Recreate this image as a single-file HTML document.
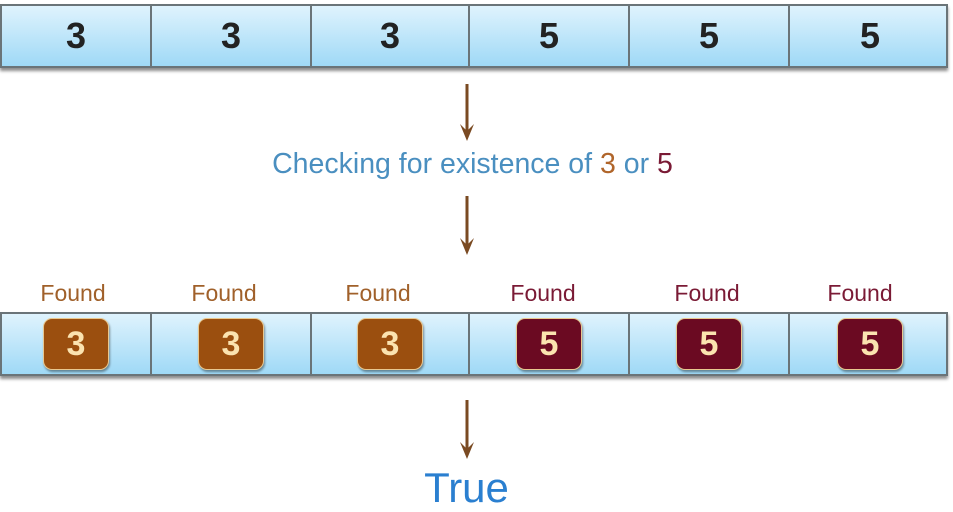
<!DOCTYPE html>
<html><head><style>
body{margin:0;width:953px;height:507px;background:#fff;position:relative;font-family:"Liberation Sans",sans-serif;overflow:hidden}
.row{position:absolute;left:0;width:948px;height:64px;background:linear-gradient(#dff3fd,#9fd9f6);border:2px solid #6a7478;box-sizing:border-box;box-shadow:0 3px 3px rgba(0,0,0,.45);display:flex}
.c{flex:none;height:100%;border-right:2px solid #6a7478;box-sizing:border-box;display:flex;align-items:center;justify-content:center;font-size:36px;color:#222;font-weight:bold}
.c:last-child{border-right:none}
.b{width:64px;height:50px;border-radius:9px;color:#fbe3b0;display:flex;align-items:center;justify-content:center;font-size:34px;box-shadow:1px 2px 2px rgba(0,0,0,.4);border:1px solid #e8c890}
.o{background:#9b4f0f}.m{background:#6b0a22}
.f{position:absolute;top:280px;font-size:23px;text-align:center;transform:translateX(-50%)}
.arr{position:absolute;left:458px}
</style></head><body>
<div class="row" style="top:4px">
<div class="c" style="width:150px">3</div><div class="c" style="width:160px">3</div><div class="c" style="width:158px">3</div><div class="c" style="width:160px">5</div><div class="c" style="width:160px">5</div><div class="c" style="width:160px">5</div>
</div>
<svg class="arr" style="top:84px" width="18" height="58"><line x1="9" y1="0" x2="9" y2="50" stroke="#7a4a22" stroke-width="3"/><path d="M2 40 L9 57 L16 40 L9 47Z" fill="#7a4a22"/></svg>
<div style="position:absolute;top:148px;left:0;width:945px;text-align:center;font-size:28.5px;color:#4a8fc0">Checking for existence of <span style="color:#b0652a">3</span> or <span style="color:#7a1a35">5</span></div>
<svg class="arr" style="top:196px" width="18" height="60"><line x1="9" y1="0" x2="9" y2="52" stroke="#7a4a22" stroke-width="3"/><path d="M2 42 L9 59 L16 42 L9 49Z" fill="#7a4a22"/></svg>
<div class="f" style="left:73px;color:#a0602a">Found</div>
<div class="f" style="left:224px;color:#a0602a">Found</div>
<div class="f" style="left:378px;color:#a0602a">Found</div>
<div class="f" style="left:543px;color:#7a1a35">Found</div>
<div class="f" style="left:707px;color:#7a1a35">Found</div>
<div class="f" style="left:860px;color:#7a1a35">Found</div>
<div class="row" style="top:312px">
<div class="c" style="width:150px"><div class="b o">3</div></div><div class="c" style="width:160px"><div class="b o">3</div></div><div class="c" style="width:158px"><div class="b o">3</div></div><div class="c" style="width:160px"><div class="b m">5</div></div><div class="c" style="width:160px"><div class="b m">5</div></div><div class="c" style="width:160px"><div class="b m">5</div></div>
</div>
<svg class="arr" style="top:400px" width="18" height="60"><line x1="9" y1="0" x2="9" y2="52" stroke="#7a4a22" stroke-width="3"/><path d="M2 42 L9 59 L16 42 L9 49Z" fill="#7a4a22"/></svg>
<div style="position:absolute;top:464px;left:0;width:933px;text-align:center;font-size:42px;color:#2a7fd0">True</div>
</body></html>
